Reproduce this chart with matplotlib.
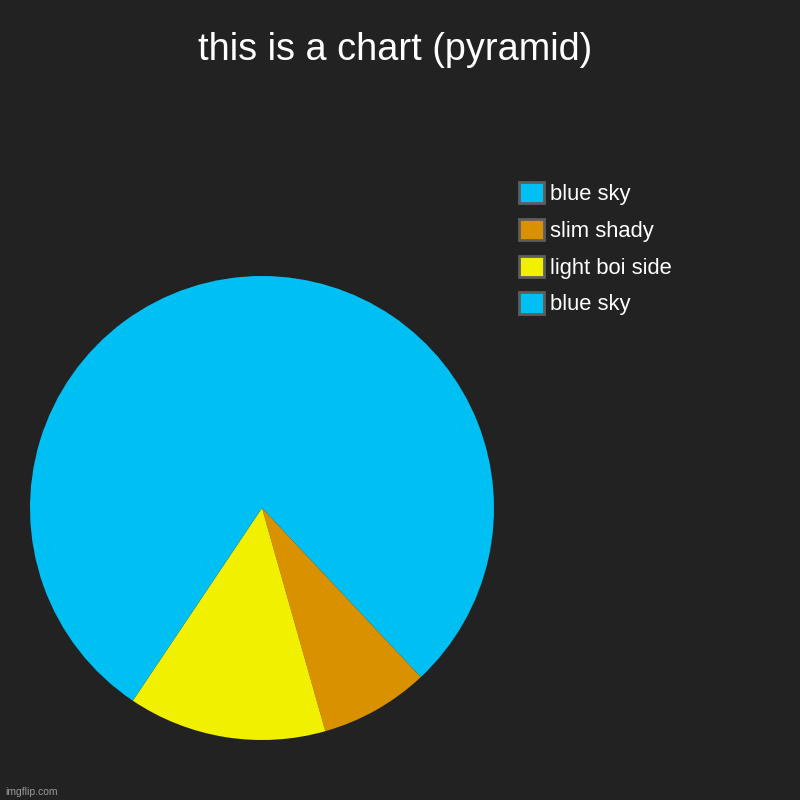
import matplotlib.pyplot as plt
from matplotlib.patches import Patch

plt.rcParams['font.family'] = ['Liberation Sans', 'DejaVu Sans']

# data, clockwise from top
labels = ['blue sky', 'slim shady', 'light boi side', 'blue sky']
values = [38.0, 7.6, 13.8, 40.6]
colors = ['#00bff3', '#da9100', '#f0f000', '#00bff3']

bg = '#222222'
W = 800.0

fig = plt.figure(figsize=(8, 8), dpi=100, facecolor=bg)

# pie centre (262, 508), radius 232 in pixels
cx, cy, r = 262, 508, 232
ax = fig.add_axes([(cx - r) / W, (W - cy - r) / W, 2 * r / W, 2 * r / W])
ax.set_facecolor(bg)
ax.pie(values, colors=colors, startangle=90, counterclock=False,
       radius=1.0, wedgeprops=dict(linewidth=0))
ax.set_xlim(-1, 1)
ax.set_ylim(-1, 1)
ax.set_aspect('equal')
ax.axis('off')

fig.text(0.494, 1 - 50 / W, 'this is a chart (pyramid)', color='white',
         fontsize=27.3, ha='center', va='center')

handles = [Patch(facecolor=c, edgecolor='#5e5e5e', linewidth=2) for c in colors]
fig.legend(handles, labels, loc='upper left',
           bbox_to_anchor=(519 / W, 1 - 182 / W), frameon=False,
           fontsize=15.8, labelcolor='white', handlelength=1.12,
           handleheight=1.1, handletextpad=0.27, labelspacing=0.63,
           borderpad=0, borderaxespad=0)

fig.text(5 / W, 1 - 792 / W, 'imgflip.com', color='#9a9a9a', fontsize=7.5,
         ha='left', va='center')

fig.savefig('out.png', dpi=100, facecolor=bg)
